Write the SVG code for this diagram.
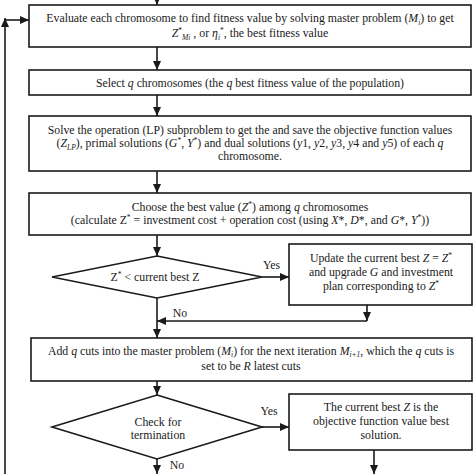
<svg xmlns="http://www.w3.org/2000/svg" width="474" height="474" viewBox="0 0 474 474">
<defs>
<marker id="ah" markerUnits="userSpaceOnUse" markerWidth="9" markerHeight="8" refX="9" refY="4" orient="auto">
<path d="M0,0 L9,4 L0,8 z" fill="#1a1a1a"/>
</marker>
<style>
.box{fill:#fff;stroke:#1a1a1a;stroke-width:1.6}
.ln{fill:none;stroke:#1a1a1a;stroke-width:1.6;marker-end:url(#ah)}
text{font-family:"Liberation Serif","Times New Roman",serif;font-size:11.8px;fill:#1a1a1a;text-anchor:middle}
.i{font-style:italic}
.s{font-size:7.5px}
</style>
</defs>
<rect width="474" height="474" fill="#fff"/>
<g id="connectors">
<line class="ln" x1="157" y1="-6" x2="157" y2="5"/>
<line class="ln" x1="157" y1="47" x2="157" y2="70"/>
<line class="ln" x1="157" y1="95" x2="157" y2="116"/>
<line class="ln" x1="157" y1="171" x2="157" y2="193"/>
<line class="ln" x1="157" y1="235" x2="157" y2="256"/>
<line class="ln" x1="262" y1="277" x2="289" y2="277"/>
<line class="ln" x1="367" y1="305" x2="367" y2="321"/>
<line class="ln" x1="367" y1="321" x2="157" y2="321"/>
<line class="ln" x1="157" y1="298" x2="157" y2="338"/>
<line class="ln" x1="157" y1="381" x2="157" y2="395"/>
<line class="ln" x1="262" y1="427" x2="289" y2="427"/>
<line class="ln" x1="157" y1="459" x2="157" y2="474"/>
<line class="ln" x1="374" y1="450" x2="374" y2="474"/>
<line class="ln" x1="5" y1="474" x2="5" y2="18"/>
<line class="ln" x1="5" y1="20" x2="29" y2="20"/>
<text x="271.5" y="269">Yes</text>
<text x="180" y="317">No</text>
<text x="269" y="415">Yes</text>
<text x="177" y="469">No</text>
</g>
<g id="n1">
<rect class="box" x="29" y="5" width="442" height="42"/>
<text x="250" y="22">Evaluate each chromosome to find fitness value by solving master problem (<tspan class="i">M</tspan><tspan class="i s" dy="2.5">i</tspan><tspan dy="-2.5">) to get</tspan></text>
<text x="250" y="37"><tspan class="i">Z</tspan><tspan class="s" dy="-4">*</tspan><tspan class="i s" dy="6.5">Mi</tspan><tspan dy="-2.5"> , or </tspan><tspan class="i">η</tspan><tspan class="i s" dy="2.5">i</tspan><tspan class="s" dy="-6.5">*</tspan><tspan dy="4">, the best fitness value</tspan></text>
</g>
<g id="n2">
<rect class="box" x="29" y="70" width="442" height="25"/>
<text x="250" y="86.5">Select <tspan class="i">q</tspan> chromosomes (the <tspan class="i">q</tspan> best fitness value of the population)</text>
</g>
<g id="n3">
<rect class="box" x="29" y="116" width="442" height="55"/>
<text x="250" y="134">Solve the operation (LP) subproblem to get the and save the objective function values</text>
<text x="250" y="147">(<tspan class="i">Z</tspan><tspan class="i s" dy="2.5">LP</tspan><tspan dy="-2.5">), primal solutions (</tspan><tspan class="i">G</tspan><tspan class="s" dy="-4">*</tspan><tspan dy="4">, </tspan><tspan class="i">Y</tspan><tspan class="s" dy="-4">*</tspan><tspan dy="4">) and dual solutions (</tspan><tspan class="i">y</tspan>1, <tspan class="i">y</tspan>2, <tspan class="i">y</tspan>3, <tspan class="i">y</tspan>4 and <tspan class="i">y</tspan>5) of each <tspan class="i">q</tspan></text>
<text x="250" y="160">chromosome.</text>
</g>
<g id="n4">
<rect class="box" x="29" y="193" width="442" height="42"/>
<text x="250" y="211">Choose the best value (<tspan class="i">Z</tspan><tspan class="s" dy="-4">*</tspan><tspan dy="4">) among </tspan><tspan class="i">q</tspan> chromosomes</text>
<text x="250" y="224">(calculate Z<tspan class="s" dy="-4">*</tspan><tspan dy="4"> = investment cost + operation cost (using </tspan><tspan class="i">X</tspan>*, <tspan class="i">D</tspan>*, and <tspan class="i">G</tspan>*, <tspan class="i">Y</tspan><tspan class="s" dy="-4">*</tspan><tspan dy="4">))</tspan></text>
</g>
<g id="d1">
<polygon class="box" points="157,256 262,277 157,298 52,277"/>
<text x="155" y="281">Z<tspan class="s" dy="-4">*</tspan><tspan dy="4"> &lt; current best Z</tspan></text>
</g>
<g id="n5">
<rect class="box" x="289" y="244" width="183" height="61"/>
<text x="381" y="262">Update the current best <tspan class="i">Z</tspan> = <tspan class="i">Z</tspan><tspan class="s" dy="-4">*</tspan></text>
<text x="381" y="276">and upgrade <tspan class="i">G</tspan> and investment</text>
<text x="381" y="290">plan corresponding to <tspan class="i">Z</tspan><tspan class="s" dy="-4">*</tspan></text>
</g>
<g id="n6">
<rect class="box" x="31" y="338" width="441" height="43"/>
<text x="251" y="355">Add <tspan class="i">q</tspan> cuts into the master problem (<tspan class="i">M</tspan><tspan class="i s" dy="2">i</tspan><tspan dy="-2">) for the next iteration </tspan><tspan class="i">M</tspan><tspan class="i s" dy="2">i+1</tspan><tspan dy="-2">, which the </tspan><tspan class="i">q</tspan> cuts is</text>
<text x="251" y="370">set to be <tspan class="i">R</tspan> latest cuts</text>
</g>
<g id="d2">
<polygon class="box" points="157,395 262,427 157,459 52,427"/>
<text x="158" y="426">Check for</text>
<text x="158" y="439">termination</text>
</g>
<g id="n7">
<rect class="box" x="289" y="394" width="183" height="56"/>
<text x="381" y="411">The current best <tspan class="i">Z</tspan> is the</text>
<text x="381" y="425">objective function value best</text>
<text x="381" y="439">solution.</text>
</g>
</svg>
